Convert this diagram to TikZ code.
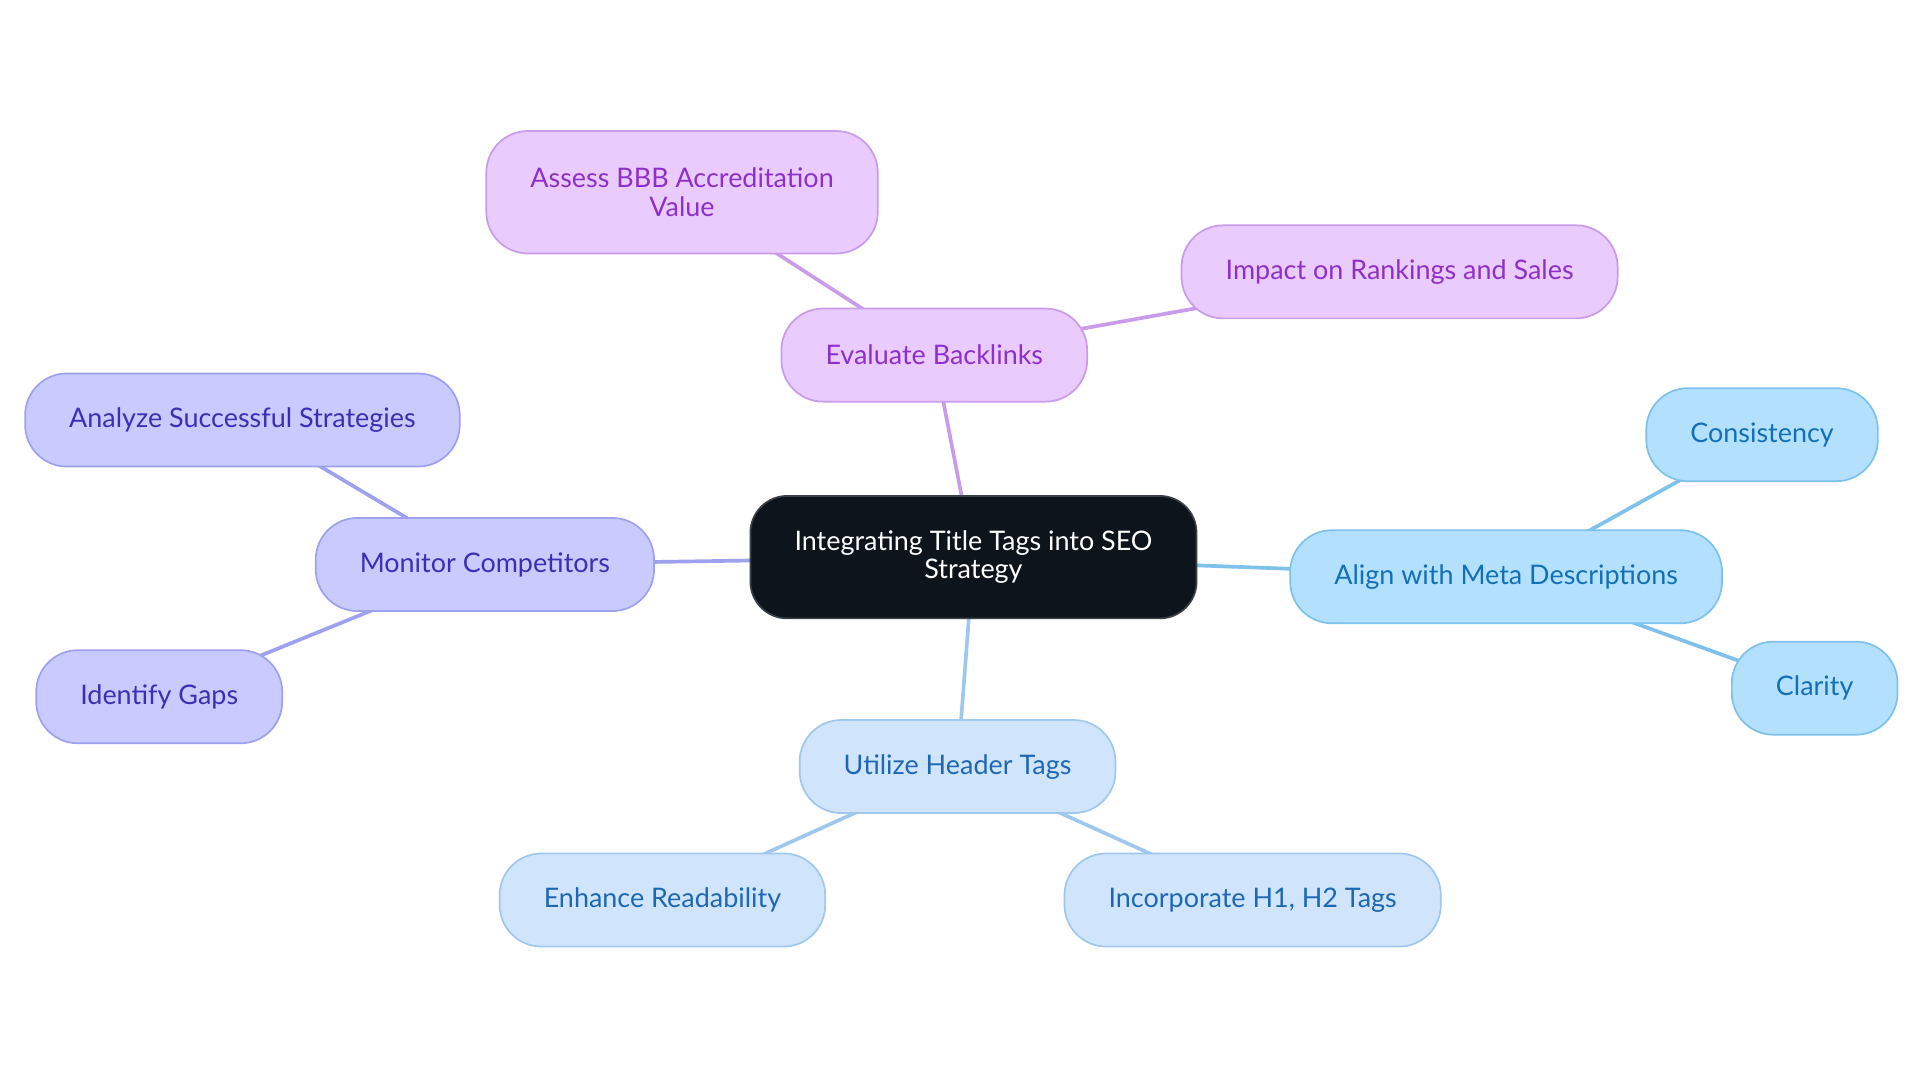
\documentclass[tikz,border=0pt]{standalone}
\usepackage{fontspec}
\setmainfont{Lato}
\usetikzlibrary{backgrounds}
\definecolor{cdark}{HTML}{0D141C}
\definecolor{cdarkb}{HTML}{3A4048}
\definecolor{pfill}{HTML}{EACBFD}
\definecolor{pline}{HTML}{C99BEB}
\definecolor{ptext}{HTML}{8E2FCB}
\definecolor{lfill}{HTML}{C9CBFE}
\definecolor{lline}{HTML}{9EA0F0}
\definecolor{ltext}{HTML}{3A30B8}
\definecolor{bfill}{HTML}{B3E0FD}
\definecolor{bline}{HTML}{7DC1EC}
\definecolor{btext}{HTML}{1270B8}
\definecolor{hfill}{HTML}{D0E5FB}
\definecolor{hline}{HTML}{A0C8EE}
\definecolor{htext}{HTML}{1C68B5}
\tikzset{
  box/.style={rectangle, rounded corners=17pt, inner xsep=18pt, inner ysep=4pt,
    minimum height=38pt, align=center, line width=0.7pt,
    font=\fontsize{11pt}{11.5pt}\selectfont},
  cbox/.style={box, fill=cdark, draw=cdarkb, text=white, minimum height=50pt, rounded corners=15pt},
  pbox/.style={box, fill=pfill, draw=pline, text=ptext},
  lbox/.style={box, fill=lfill, draw=lline, text=ltext},
  bbox/.style={box, fill=bfill, draw=bline, text=btext},
  hbox/.style={box, fill=hfill, draw=hline, text=htext},
  pedge/.style={draw=pline, line width=1.5pt},
  ledge/.style={draw=lline, line width=1.5pt},
  bedge/.style={draw=bline, line width=1.5pt},
  hedge/.style={draw=hline, line width=1.5pt},
}
\begin{document}
\begin{tikzpicture}[x=0.5pt, y=-0.5pt]
\useasboundingbox (0,0) rectangle (1568,884.4);
% nodes
\node[cbox] (c) at (795,455) {Integrating Title Tags into SEO\\Strategy};
\node[pbox] (eb) at (763,290) {Evaluate Backlinks};
\node[pbox, minimum height=50pt] (bbb) at (557,157) {Assess BBB Accreditation\\Value};
\node[pbox] (irs) at (1143,222) {Impact on Rankings and Sales};
\node[lbox] (mc) at (396,461) {Monitor Competitors};
\node[lbox] (ass) at (198,343) {Analyze Successful Strategies};
\node[lbox] (ig) at (130,569) {Identify Gaps};
\node[bbox] (amd) at (1230,471) {Align with Meta Descriptions};
\node[bbox] (con) at (1439,355) {Consistency};
\node[bbox] (cla) at (1482,562) {Clarity};
\node[hbox] (uht) at (782,626) {Utilize Header Tags};
\node[hbox] (er) at (541,735) {Enhance Readability};
\node[hbox] (inc) at (1023,735) {Incorporate H1, H2 Tags};
% edges
\begin{scope}[on background layer]
\fill[white] (0,0) rectangle (1568,884.4);
\path[pedge] (c.center) -- (eb.center);
\path[pedge] (eb.center) -- (bbb.center);
\path[pedge] (eb.center) -- (irs.center);
\path[ledge] (c.center) -- (mc.center);
\path[ledge] (mc.center) -- (ass.center);
\path[ledge] (mc.center) -- (ig.center);
\path[bedge] (c.center) -- (amd.center);
\path[bedge] (amd.center) -- (con.center);
\path[bedge] (amd.center) -- (cla.center);
\path[hedge] (c.center) -- (uht.center);
\path[hedge] (uht.center) -- (er.center);
\path[hedge] (uht.center) -- (inc.center);
\end{scope}
\end{tikzpicture}
\end{document}
